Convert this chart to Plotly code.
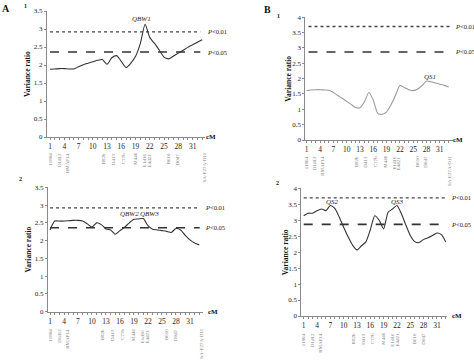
import plotly.graph_objects as go

cm = list(range(1, 34))

a1_vals = [1.88, 1.89, 1.90, 1.90, 1.89, 1.89, 1.95, 2.01, 2.05, 2.09, 2.13, 2.15, 2.02, 2.20, 2.26,
           2.10, 1.93, 2.05, 2.24, 2.60, 3.13, 2.76, 2.60, 2.41, 2.22, 2.17, 2.25, 2.33, 2.41, 2.49,
           2.56, 2.63, 2.70]
a2_vals = [2.30, 2.55, 2.55, 2.55, 2.56, 2.57, 2.57, 2.55, 2.47, 2.38, 2.50, 2.45, 2.33, 2.30, 2.18,
           2.28, 2.38, 2.50, 2.60, 2.61, 2.62, 2.42, 2.32, 2.30, 2.28, 2.26, 2.23, 2.34, 2.30, 2.15,
           2.02, 1.93, 1.88]
b1_vals = [1.61, 1.63, 1.64, 1.64, 1.63, 1.62, 1.55, 1.45, 1.36, 1.26, 1.16, 1.06, 1.05, 1.25, 1.55,
           1.30, 0.87, 0.84, 0.92, 1.15, 1.45, 1.78, 1.71, 1.64, 1.61, 1.66, 1.78, 1.92, 1.90, 1.86,
           1.82, 1.78, 1.73]
b2_vals = [3.14, 3.22, 3.22, 3.30, 3.35, 3.30, 3.46, 3.37, 3.10, 2.78, 2.48, 2.22, 2.07, 2.20, 2.32,
           2.70, 3.14, 3.00, 2.73, 3.25, 3.35, 3.46, 3.20, 2.85, 2.52, 2.33, 2.30, 2.40, 2.45, 2.52,
           2.60, 2.55, 2.32]

thr_a = [2.92, 2.36]   # P<0.01, P<0.05
thr_b = [3.70, 2.87]
thr_labels = ["<i>P</i>&lt;0.01", "<i>P</i>&lt;0.05"]

tick_vals = [1, 4, 7, 10, 13, 16, 19, 22, 25, 28, 31]
marker_names = ["11804", "D1d12", "BMAP14", "B82b", "D413", "C77b", "M446", "E1d16", "E4d21",
                "B610", "D0d7", "SA-E27A-D11"]
marker_pos = [1, 2.9, 4.6, 12.3, 14.3, 16.5, 18.8, 20.8, 21.9, 26.0, 27.8, 33.3]

qtl_a1 = (["QBW1"], [20.3], [3.27])
qtl_a2 = (["QBW2", "QBW3"], [18.1, 22.3], [2.76, 2.76])
qtl_b1 = (["QS1"], [28.8], [2.05])
qtl_b2 = (["QS2", "QS3"], [7.4, 22.2], [3.56, 3.56])

FONT = "Liberation Serif"
W, H = 474, 361

panels = [
    dict(vals=a1_vals, color="#333333", thr=thr_a, thr_x=[1, 32.6], xpx=(47, 205), ypx=(137, 11),
         xr=[0.37, 33.6], ymax=3.5, qtl=qtl_a1, yt_x=27, cm_x=211, pl_x=205, mk_top=151),
    dict(vals=a2_vals, color="#333333", thr=thr_a, thr_x=[1, 33.1], xpx=(48, 203), ypx=(311.7, 187.3),
         xr=[0.57, 33.8], ymax=3.5, qtl=qtl_a2, yt_x=28, cm_x=213, pl_x=203, mk_top=327),
    dict(vals=b1_vals, color="#9a9a9a", thr=thr_b, thr_x=[1.4, 33.3], xpx=(305.3, 452.7), ypx=(140, 17.3),
         xr=[0.68, 33.9], ymax=4.0, qtl=qtl_b1, yt_x=289, cm_x=458, pl_x=453, mk_top=154),
    dict(vals=b2_vals, color="#333333", thr=thr_b, thr_x=[1, 32.9], xpx=(301.3, 446.7), ypx=(316, 188.3),
         xr=[0.46, 33.2], ymax=4.0, qtl=qtl_b2, yt_x=285, cm_x=457, pl_x=449, mk_top=331),
]

fig = go.Figure()
annotations = []
layout = dict(
    width=W, height=H, margin=dict(l=0, r=0, t=0, b=0, pad=0, autoexpand=False),
    paper_bgcolor="white", plot_bgcolor="white", showlegend=False,
    font=dict(family=FONT, color="#222222"),
)

for i, p in enumerate(panels, start=1):
    xa = "x" if i == 1 else f"x{i}"
    ya = "y" if i == 1 else f"y{i}"
    xkey = "xaxis" if i == 1 else f"xaxis{i}"
    ykey = "yaxis" if i == 1 else f"yaxis{i}"
    xd = [p["xpx"][0] / W, p["xpx"][1] / W]
    yd = [1 - p["ypx"][0] / H, 1 - p["ypx"][1] / H]

    layout[xkey] = dict(
        domain=xd, range=p["xr"], anchor=ya, showgrid=False, zeroline=False, automargin=False,
        showline=True, linecolor="#8a8a8a", linewidth=1,
        tickmode="array", tickvals=tick_vals, ticks="outside", ticklen=2, tickcolor="#8a8a8a",
        tickfont=dict(size=7.5, family=FONT, color="#222"),
        minor=dict(ticks="outside", ticklen=2, dtick=1, tick0=0, tickcolor="#8a8a8a"),
    )
    layout[ykey] = dict(
        domain=yd, range=[0, p["ymax"]], anchor=xa, showgrid=False, zeroline=False, automargin=False,
        showline=True, linecolor="#8a8a8a", linewidth=1,
        dtick=0.5, tick0=0, ticks="outside", ticklen=2, tickcolor="#8a8a8a",
        tickfont=dict(size=7, family=FONT, color="#222"),
    )

    fig.add_trace(go.Scatter(x=p["thr_x"], y=[p["thr"][0]] * 2, mode="lines", xaxis=xa, yaxis=ya,
                             line=dict(color="#444", width=1.3, dash="dot"), hoverinfo="skip"))
    fig.add_trace(go.Scatter(x=p["thr_x"], y=[p["thr"][1]] * 2, mode="lines", xaxis=xa, yaxis=ya,
                             line=dict(color="#333", width=1.6, dash="dash"), hoverinfo="skip"))
    fig.add_trace(go.Scatter(x=cm, y=p["vals"], mode="lines", xaxis=xa, yaxis=ya,
                             line=dict(color=p["color"], width=1.1, shape="spline", smoothing=0.6)))

    for t, yv in zip(thr_labels, p["thr"]):
        annotations.append(dict(text=t, xref="paper", yref=ya, x=p["pl_x"] / W, y=yv,
                                xanchor="left", yanchor="middle", showarrow=False,
                                font=dict(size=6.5, family=FONT, color="#222")))
    for t, xq, yq in zip(*p["qtl"]):
        annotations.append(dict(text=f"<i>{t}</i>", xref=xa, yref=ya, x=xq, y=yq,
                                xanchor="center", yanchor="middle", showarrow=False,
                                font=dict(size=7, family=FONT, color="#222")))
    for name, xm in zip(marker_names, marker_pos):
        annotations.append(dict(text=name, xref=xa, yref="paper", x=xm, y=1 - p["mk_top"] / H,
                                xanchor="center", yanchor="top", textangle=-90, showarrow=False,
                                font=dict(size=5, family=FONT, color="#808080")))
    annotations.append(dict(text="<b>Variance ratio</b>", xref="paper", yref="paper",
                            x=p["yt_x"] / W, y=(yd[0] + yd[1]) / 2, textangle=-90,
                            xanchor="center", yanchor="middle", showarrow=False,
                            font=dict(size=7.5, family=FONT, color="#111")))
    annotations.append(dict(text="<b>cM</b>", xref="paper", yref="paper",
                            x=p["cm_x"] / W, y=yd[0], xanchor="center", yanchor="middle",
                            showarrow=False, font=dict(size=7, family=FONT, color="#111")))

for txt, x, y, s in [("<b>A</b>", 6, 9, 10), ("<b>1</b>", 25, 6, 6), ("<b>2</b>", 20, 179, 6),
                     ("<b>B</b>", 267, 10, 10), ("<b>1</b>", 278, 16, 6), ("<b>2</b>", 277, 183, 6)]:
    annotations.append(dict(text=txt, xref="paper", yref="paper", x=x / W, y=1 - y / H,
                            xanchor="center", yanchor="middle", showarrow=False,
                            font=dict(size=s, family=FONT, color="#111")))

layout["annotations"] = annotations
fig.update_layout(**layout)
fig.write_html("out.html", config={"displayModeBar": False, "staticPlot": True},
               post_script="document.body.style.margin='0';document.body.style.overflow='hidden';")
